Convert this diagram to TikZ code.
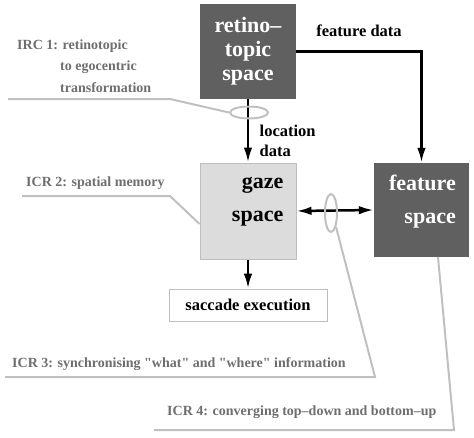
\documentclass[tikz,border=0pt]{standalone}
\usepackage{fontspec}
\setmainfont{Liberation Serif}
\usetikzlibrary{arrows.meta}
\usetikzlibrary{shapes.geometric}
\definecolor{boxdark}{RGB}{96,96,96}
\definecolor{boxlight}{RGB}{220,220,220}
\definecolor{boxline}{RGB}{190,190,190}
\definecolor{leadgray}{RGB}{192,192,192}
\definecolor{notegray}{RGB}{110,110,110}
\newcommand{\bigtxt}{\fontsize{22}{24}\selectfont\bfseries}
\newcommand{\midtxt}{\fontsize{16.5}{20}\selectfont\bfseries}
\newcommand{\notetxt}{\fontsize{14}{21}\selectfont\bfseries}

\begin{document}
\begin{tikzpicture}[x=1pt, y=-1pt,
  darkbox/.style={rectangle, fill=boxdark, text=white, minimum width=96pt, minimum height=95pt, inner sep=0pt},
  lightbox/.style={rectangle, fill=boxlight, draw=boxline, line width=1pt, minimum width=96pt, minimum height=96pt, inner sep=0pt},
  flow/.style={line width=2.5pt, ->, >={Latex[length=15pt, width=8.5pt]}},
  lead/.style={draw=leadgray, line width=2pt},
  ring/.style={ellipse, draw=leadgray, line width=2pt, inner sep=0pt},
  note/.style={text=notegray, font=\notetxt, inner sep=0pt}]
\useasboundingbox (0,0) rectangle (474,437);

% boxes
\node (RET) at (248,51.5) [darkbox, align=center, font=\bigtxt] {retino--\\topic\\space};
\node (GAZE) at (248,211) [lightbox] {};
\node (FEAT) at (421.5,210) [darkbox, minimum width=95pt, minimum height=94pt] {};
\node (SAC) at (248,305) [rectangle, draw=boxline, line width=0.8pt, minimum width=158pt, minimum height=32pt, font=\midtxt] {saccade execution};
\node (GAZET) at (283.5,201.5) [anchor=east, align=right, inner sep=0pt, font=\fontsize{22}{33}\selectfont\bfseries] {gaze\\space};
\node (FEATT) at (456,201.5) [anchor=east, align=right, inner sep=0pt, text=white, font=\fontsize{22}{33}\selectfont\bfseries] {feature\\space};

% data flow
\draw[flow] (RET.east) -| (FEAT.north);
\draw[flow] (RET.south) -- (GAZE.north);
\draw[flow, <->] (GAZE.east) -- (FEAT.west);
\draw[flow] (GAZE.south) -- (SAC.north);
\node (FD) at (359,31) [font=\midtxt, inner sep=0pt] {feature data};
\node (LD) at (259.5,141) [anchor=west, align=left, inner sep=0pt, font=\midtxt] {location\\data};

% interaction circuits
\node (E1) at (249,112.5) [ring, minimum width=38pt, minimum height=12pt] {};
\node (E2) at (331,213) [ring, minimum width=12pt, minimum height=38pt] {};

\coordinate (L1a) at (8,99); \coordinate (L1b) at (170,99);
\coordinate (L2a) at (22,196); \coordinate (L2b) at (170,196);
\coordinate (L3a) at (5,377); \coordinate (L3b) at (375,377);
\coordinate (L4a) at (154,430); \coordinate (L4b) at (454,430);
\coordinate (L4c) at (438,257);

\draw[lead] (L1a) -- (L1b) -- (E1.west);
\draw[lead] (L2a) -- (L2b) -- (GAZE.195);
\draw[lead] (L3a) -- (L3b) -- (E2.-70);
\draw[lead] (L4a) -- (L4b) -- (L4c);

\node (N1) at (17,46) [note, anchor=west] {IRC 1: retinotopic};
\node (N1b) at (60,67) [note, anchor=west] {to egocentric};
\node (N1c) at (60,88) [note, anchor=west] {transformation};
\node (N2) at (26,183) [note, anchor=west] {ICR 2: spatial memory};
\node (N3) at (12,364) [note, anchor=west] {ICR 3: synchronising \textquotedbl what\textquotedbl{} and \textquotedbl where\textquotedbl{} information};
\node (N4) at (167,412) [note, anchor=west] {ICR 4: converging top--down and bottom--up};

\end{tikzpicture}
\end{document}
